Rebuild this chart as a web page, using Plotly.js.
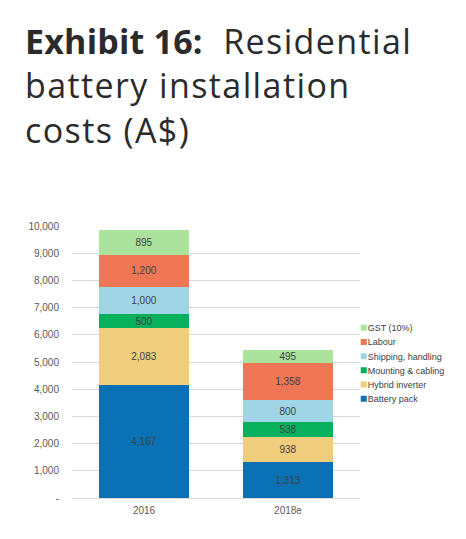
<!DOCTYPE html>
<html><head><meta charset="utf-8">
<script src="https://cdn.plot.ly/plotly-3.0.1.min.js"></script>
<style>body{margin:0;background:#fff}#chart{width:466px;height:539px}
.gtitle{letter-spacing:1.4px}</style>
</head><body><div id="chart"></div>
<script>
const categories = ["2016", "2018e"];
const seriesNames = ["Battery pack", "Hybrid inverter", "Mounting & cabling", "Shipping, handling", "Labour", "GST (10%)"];
const batteryPack = [4167, 1313];
const hybridInverter = [2083, 938];
const mountingCabling = [500, 538];
const shippingHandling = [1000, 800];
const labour = [1200, 1358];
const gst = [895, 495];
const yTickVals = [0, 1000, 2000, 3000, 4000, 5000, 6000, 7000, 8000, 9000, 10000];
const yTickText = ["-", "1,000", "2,000", "3,000", "4,000", "5,000", "6,000", "7,000", "8,000", "9,000", "10,000"];

const seriesValues = [batteryPack, hybridInverter, mountingCabling, shippingHandling, labour, gst];
const colors = ["#0a72b4", "#efcd7d", "#06b05c", "#9fd5e5", "#ef7756", "#abe39e"];

const traces = seriesValues.map((vals, i) => ({
  type: "bar",
  name: seriesNames[i],
  x: categories,
  y: vals,
  marker: {color: colors[i], line: {width: 0}},
  text: vals.map(v => v.toLocaleString("en-US")),
  textposition: "inside",
  insidetextanchor: "middle",
  constraintext: "none",
  textangle: 0,
  textfont: {family: "Liberation Sans, Arial, sans-serif", size: 10, color: "#404040"},
  hoverinfo: "none"
}));

const layout = {
  width: 466, height: 539,
  paper_bgcolor: "#fff", plot_bgcolor: "#fff",
  barmode: "stack",
  bargap: 0.375,
  margin: {l: 72, r: 106, t: 226, b: 41},
  title: {
    text: "<b><span style=\"letter-spacing:0.2px\">Exhibit 16:</span></b>  Residential<br>battery installation<br>costs (A$)",
    x: 25 / 466, xanchor: "left", xref: "container",
    y: 0.8996, yanchor: "top", yref: "container",
    font: {family: "Open Sans, sans-serif", size: 34, color: "#2b2b2b"}
  },
  xaxis: {
    type: "category",
    showline: false, showgrid: false, zeroline: false,
    tickfont: {family: "Liberation Sans, Arial, sans-serif", size: 10, color: "#595959"},
    ticks: "",
    ticklabelstandoff: 5
  },
  yaxis: {
    range: [0, 10000],
    tickvals: yTickVals, ticktext: yTickText,
    showgrid: true, gridcolor: "#d9d9d9", gridwidth: 1,
    zeroline: true, zerolinecolor: "#d9d9d9", zerolinewidth: 1,
    ticklabelstandoff: 12,
    tickfont: {family: "Liberation Sans, Arial, sans-serif", size: 10, color: "#595959"}
  },
  showlegend: true,
  legend: {
    x: 0.888, xanchor: "left", y: 0.67, yanchor: "top",
    traceorder: "reversed",
    font: {family: "Liberation Sans, Arial, sans-serif", size: 9, color: "#404040"},
    itemwidth: 30,
    bgcolor: "rgba(0,0,0,0)"
  }
};

Plotly.newPlot("chart", traces, layout, {staticPlot: true, displayModeBar: false}).then(gd => {
  // tighten legend rows and shrink swatches to match the reference look
  const items = gd.querySelectorAll(".legend .traces");
  items.forEach((g, i) => {
    const m = /translate\(([^,]+),\s*([^)]+)\)/.exec(g.getAttribute("transform") || "");
    const x0 = m ? parseFloat(m[1]) : 0;
    g.setAttribute("transform", "translate(" + x0 + "," + (12 + i * 14.2) + ")");
    g.querySelectorAll(".legendpoints path").forEach(p => {
      p.setAttribute("d", "M3,3H-3V-3H3Z");
      p.setAttribute("transform", "translate(36,0)");
    });
  });
});
</script>
</body></html>
